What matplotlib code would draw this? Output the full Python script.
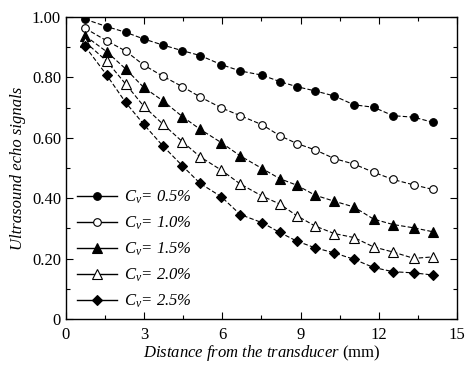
import numpy as np
import matplotlib
matplotlib.use('Agg')
import matplotlib.pyplot as plt
from matplotlib.ticker import MultipleLocator

plt.rcParams['font.family'] = 'Liberation Serif'
plt.rcParams['mathtext.fontset'] = 'custom'
plt.rcParams['mathtext.rm'] = 'Liberation Serif'
plt.rcParams['mathtext.it'] = 'Liberation Serif:italic'

dist = [0.74, 1.56, 2.29, 2.98, 3.71, 4.47, 5.15, 5.96, 6.69, 7.53,
        8.20, 8.86, 9.56, 10.30, 11.05, 11.80, 12.55, 13.35, 14.08]
cv05 = [0.992, 0.968, 0.949, 0.927, 0.907, 0.888, 0.872, 0.842, 0.821, 0.807,
        0.786, 0.769, 0.755, 0.738, 0.709, 0.701, 0.673, 0.668, 0.651]
cv10 = [0.962, 0.921, 0.887, 0.841, 0.804, 0.769, 0.735, 0.699, 0.673, 0.643,
        0.607, 0.581, 0.560, 0.531, 0.513, 0.486, 0.462, 0.444, 0.429]
cv15 = [0.937, 0.885, 0.828, 0.767, 0.723, 0.670, 0.628, 0.584, 0.540, 0.498,
        0.465, 0.443, 0.410, 0.390, 0.371, 0.331, 0.313, 0.302, 0.289]
cv20 = [0.917, 0.854, 0.778, 0.705, 0.646, 0.587, 0.537, 0.493, 0.447, 0.407,
        0.381, 0.342, 0.308, 0.283, 0.270, 0.239, 0.222, 0.201, 0.206]
cv25 = [0.902, 0.808, 0.717, 0.645, 0.574, 0.507, 0.449, 0.405, 0.346, 0.319,
        0.287, 0.258, 0.236, 0.219, 0.198, 0.171, 0.157, 0.153, 0.146]
labels = ['0.5%', '1.0%', '1.5%', '2.0%', '2.5%']

fig = plt.figure(figsize=(4.74, 3.66), dpi=100)
ax = fig.add_axes([0.139, 0.128, 0.825, 0.826])

styles = [('o', 'k', 5.5), ('o', 'w', 5.5), ('^', 'k', 6.5), ('^', 'w', 6.5), ('D', 'k', 5.5)]
series = [cv05, cv10, cv15, cv20, cv25]
for ys, lab, (m, fc, ms) in zip(series, labels, styles):
    ax.plot(dist, ys, ls=(0, (4, 2)), lw=0.8, color='k', marker=m, mfc=fc,
            mec='k', ms=ms, mew=0.8, label='_nolegend_')
    ax.plot([], [], ls='-', lw=1.0, color='k', marker=m, mfc=fc, mec='k',
            ms=ms, mew=0.8, label=r'$C_v$= ' + lab)

ax.set_xlim(0, 15)
ax.set_ylim(0, 1.0)
ax.xaxis.set_minor_locator(MultipleLocator(1.5))
ax.yaxis.set_minor_locator(MultipleLocator(0.1))
ax.set_xticks([0, 3, 6, 9, 12, 15])
ax.set_xticklabels(['0', '3', '6', '9', '12', '15'])
ax.set_yticks([0, 0.2, 0.4, 0.6, 0.8, 1.0])
ax.set_yticklabels(['0', '0.20', '0.40', '0.60', '0.80', '1.00'])
ax.tick_params(which='both', direction='in', top=True, right=True, labelsize=12)
ax.tick_params(which='major', length=5, width=0.8)
ax.tick_params(which='minor', length=3, width=0.8)
ax.tick_params(axis='x', which='major', pad=6)
for s in ax.spines.values():
    s.set_linewidth(1.0)

ax.set_xlabel(r'$Distance\ from\ the\ transducer$ (mm)', fontsize=12, labelpad=0)
ax.set_ylabel('Ultrasound echo signals', fontsize=12, style='italic', labelpad=4)

leg = ax.legend(loc='lower left', bbox_to_anchor=(-0.01, -0.02), frameon=False,
                handlelength=2.4, labelspacing=0.52, handletextpad=0.4,
                prop={'style': 'italic', 'size': 12})

fig.savefig('out.png', dpi=100)
